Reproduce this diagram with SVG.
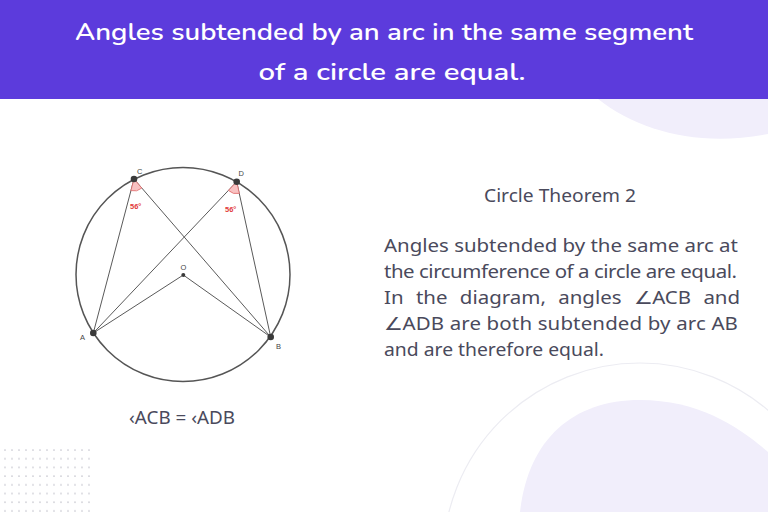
<svg xmlns="http://www.w3.org/2000/svg" width="768" height="512" viewBox="0 0 768 512">
<defs>
<style>
.title{font-family:"Nunito","Noto Sans","Liberation Sans",sans-serif;font-weight:600;font-size:24px;fill:#ffffff;text-anchor:middle}
.body{font-family:"Noto Sans","Liberation Sans",sans-serif;font-size:17.5px;fill:#4a4a5c}
.lbl{font-family:"Liberation Sans",sans-serif;font-size:7.5px;fill:#444}
.ang{font-family:"Liberation Sans",sans-serif;font-size:7.5px;font-weight:bold;fill:#e23a3a}
.seg{stroke:#5a5a5a;stroke-width:1;fill:none}
.pt{fill:#3a3a3a}
.sector{fill:#f9c2c2;stroke:#e06a6a;stroke-width:0.8}
</style>
<pattern id="dots" x="3" y="448" width="7" height="8.7" patternUnits="userSpaceOnUse">
<circle cx="2" cy="2" r="0.85" fill="#c8c8d0"/>
</pattern>
</defs>
<rect width="768" height="512" fill="#ffffff"/>
<g id="background">
<path d="M598 99 C640 132 700 147 768 134 L768 99 Z" fill="#f1eefb"/>
<path d="M520 512 C528 440 572 400 640 400 C700 400 740 428 768 452 L768 512 Z" fill="#f1eefb"/>
<circle cx="640" cy="560" r="197" fill="none" stroke="#ececf2" stroke-width="1.2"/>
<rect x="0" y="448" width="92" height="64" fill="url(#dots)"/>
</g>
<g id="header">
<rect x="0" y="0" width="768" height="99" fill="#5c3bdc"/>
<text class="title" x="384" y="40" textLength="618" lengthAdjust="spacingAndGlyphs">Angles subtended by an arc in the same segment</text>
<text class="title" x="392" y="80" textLength="267" lengthAdjust="spacingAndGlyphs">of a circle are equal.</text>
</g>
<g id="circle">
<circle cx="183" cy="274.5" r="107" fill="none" stroke="#555" stroke-width="1.5"/>
</g>
<g id="connectors">
<line class="seg" x1="93.3" y1="333" x2="134" y2="179"/>
<line class="seg" x1="134" y1="179" x2="270.7" y2="337"/>
<line class="seg" x1="93.3" y1="333" x2="236.7" y2="181.7"/>
<line class="seg" x1="236.7" y1="181.7" x2="270.7" y2="337"/>
<line class="seg" x1="93.3" y1="333" x2="183.3" y2="275"/>
<line class="seg" x1="183.3" y1="275" x2="270.7" y2="337"/>
</g>
<g id="angle-C">
<path class="sector" d="M134 179 L130.9 190.6 A12 12 0 0 0 141.8 188.1 Z"/>
<text class="ang" x="130" y="209">56°</text>
</g>
<g id="angle-D">
<path class="sector" d="M236.7 181.7 L228.4 190.4 A12 12 0 0 0 239.3 193.4 Z"/>
<text class="ang" x="225" y="212">56°</text>
</g>
<g id="point-C"><circle class="pt" cx="134" cy="179" r="3.3"/><text class="lbl" x="137" y="174">C</text></g>
<g id="point-D"><circle class="pt" cx="236.7" cy="181.7" r="3.3"/><text class="lbl" x="238.5" y="176">D</text></g>
<g id="point-A"><circle class="pt" cx="93.3" cy="333" r="3.3"/><text class="lbl" x="80" y="340">A</text></g>
<g id="point-B"><circle class="pt" cx="270.7" cy="337" r="3.3"/><text class="lbl" x="276" y="349">B</text></g>
<g id="point-O"><circle class="pt" cx="183.3" cy="275" r="2"/><text class="lbl" x="180.5" y="270">O</text></g>
<g id="equation">
<text class="body" x="129" y="424" font-size="16" textLength="106" lengthAdjust="spacingAndGlyphs">‹ACB = ‹ADB</text>
</g>
<g id="text-panel">
<text class="body" x="484" y="202" font-size="16.5" textLength="152" lengthAdjust="spacingAndGlyphs">Circle Theorem 2</text>
<g transform="translate(384 0) scale(1.17 1)">
<text class="body" x="0" y="252" textLength="302.5" lengthAdjust="spacing">Angles subtended by the same arc at</text>
<text class="body" x="0" y="278" textLength="301.7" lengthAdjust="spacing">the circumference of a circle are equal.</text>
<text class="body" x="0" y="304" word-spacing="6">In the diagram, angles ∠ACB and</text>
<text class="body" x="0" y="330" textLength="302.5" lengthAdjust="spacing">∠ADB are both subtended by arc AB</text>
<text class="body" x="0" y="356" textLength="188" lengthAdjust="spacingAndGlyphs">and are therefore equal.</text>
</g>
</g>
</svg>
